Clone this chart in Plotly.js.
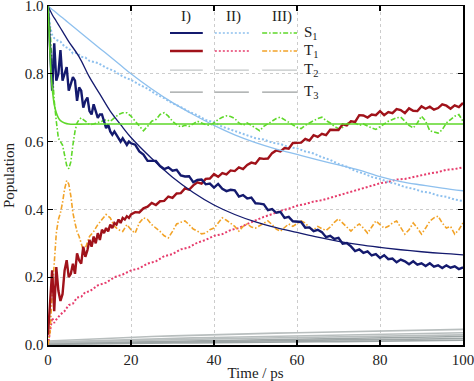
<!DOCTYPE html>
<html>
<head>
<meta charset="utf-8">
<script src="https://cdn.plot.ly/plotly-3.0.1.min.js"></script>
<style>html,body{margin:0;padding:0;background:#fff;}#chart{width:474px;height:381px;}</style>
</head>
<body>
<div id="chart"></div>
<script>
// ---------- time grids (ps) ----------
const tEarly = [0,0.5,1,1.5,2,2.5,3,3.5,4,4.5,5,5.5,6,6.5,7,7.5,8,8.5,9,9.5,10,10.5,11,11.5,12,12.5,13,13.5,14,14.5,15,15.5,16,16.5,17,17.5,18,18.5,19,19.5,20];
const tLate = [21,22,23,24,25,26,27,28,29,30,31,32,33,34,35,36,37,38,39,40,41,42,43,44,45,46,47,48,49,50,51,52,53,54,55,56,57,58,59,60,61,62,63,64,65,66,67,68,69,70,71,72,73,74,75,76,77,78,79,80,81,82,83,84,85,86,87,88,89,90,91,92,93,94,95,96,97,98,99,100];
const tII = [0,0.5,1,1.5,2,3,4,5,6,7,8,9,10,12,14,16,18,20,22,24,26,28,30,32,34,36,38,40,42,44,46,48,50,52,54,56,58,60,62,64,66,68,70,72,74,76,78,80,82,84,86,88,90,92,94,96,98,100];
const tIIIearly = [0,0.5,1,1.5,2,2.5,3,3.5,4,4.5,5,5.5,6,6.5,7,7.5,8,8.5,9,9.5,10,11,12,13,14,15,16,17,18,19,20];
const tIIIlate = [21,22,23,24,25,26,27,28,29,30,31,32,33,34,35,36,37,38,39,40,41,42,43,44,45,46,47,48,49,50,51,52,53,54,55,56,57,58,59,60,61,62,63,64,65,66,67,68,69,70,71,72,73,74,75,76,77,78,79,80,81,82,83,84,85,86,87,88,89,90,91,92,93,94,95,96,97,98,99,100];
const tFit = [0,1,2,3,4,5,7.5,10,12.5,15,17.5,20,25,30,35,40,45,50,55,60,65,70,75,80,85,90,95,100];
const tFitIII = [0,0.25,0.5,0.75,1,1.5,2,2.5,3,4,5,10,100];
const tGray = [0,5,10,15,20,25,30,35,40,45,50,55,60,65,70,75,80,85,90,95,100];

// ---------- I) populations ----------
const s1_I_early = [1.0,0.86,0.75,0.89,0.78,0.80,0.87,0.78,0.80,0.82,0.75,0.77,0.79,0.78,0.72,0.76,0.75,0.70,0.72,0.73,0.69,0.68,0.71,0.69,0.67,0.68,0.68,0.66,0.64,0.65,0.63,0.62,0.63,0.62,0.61,0.60,0.61,0.60,0.59,0.60,0.595];
const s1_I_late = [0.591,0.571,0.562,0.543,0.543,0.543,0.528,0.519,0.524,0.514,0.517,0.500,0.497,0.498,0.480,0.487,0.488,0.474,0.476,0.464,0.475,0.461,0.454,0.458,0.456,0.438,0.442,0.432,0.435,0.418,0.417,0.415,0.398,0.401,0.390,0.393,0.375,0.378,0.365,0.364,0.363,0.346,0.347,0.336,0.340,0.333,0.318,0.322,0.313,0.316,0.299,0.301,0.291,0.277,0.282,0.272,0.276,0.264,0.268,0.257,0.265,0.253,0.255,0.244,0.252,0.247,0.238,0.247,0.237,0.241,0.233,0.241,0.231,0.235,0.227,0.235,0.228,0.232,0.224,0.229];
const t1_I_early = [0.03,0.12,0.22,0.10,0.23,0.16,0.13,0.15,0.22,0.25,0.20,0.21,0.24,0.21,0.27,0.25,0.24,0.29,0.26,0.28,0.31,0.29,0.32,0.30,0.33,0.31,0.34,0.33,0.345,0.335,0.355,0.345,0.36,0.355,0.37,0.36,0.375,0.37,0.38,0.375,0.385];
const t1_I_late = [0.392,0.391,0.403,0.408,0.419,0.413,0.424,0.425,0.438,0.434,0.447,0.448,0.462,0.458,0.471,0.480,0.476,0.490,0.491,0.504,0.496,0.507,0.503,0.515,0.513,0.524,0.519,0.531,0.538,0.535,0.551,0.549,0.550,0.566,0.574,0.571,0.581,0.579,0.596,0.597,0.597,0.608,0.603,0.619,0.614,0.623,0.619,0.635,0.635,0.634,0.651,0.648,0.660,0.658,0.678,0.677,0.671,0.680,0.678,0.690,0.678,0.687,0.684,0.696,0.693,0.684,0.698,0.691,0.690,0.704,0.697,0.703,0.694,0.699,0.710,0.706,0.697,0.707,0.702,0.714];
const s1_I_fit = [1.0,0.975,0.955,0.935,0.915,0.895,0.85,0.79,0.74,0.69,0.65,0.612,0.55,0.495,0.45,0.413,0.385,0.363,0.346,0.332,0.318,0.306,0.296,0.288,0.281,0.275,0.270,0.266];

// ---------- II) populations ----------
const s1_II = [1.0,0.94,0.915,0.905,0.90,0.895,0.88,0.875,0.86,0.862,0.85,0.848,0.838,0.832,0.818,0.808,0.792,0.782,0.768,0.756,0.74,0.728,0.713,0.702,0.688,0.678,0.664,0.657,0.644,0.636,0.626,0.619,0.61,0.606,0.597,0.593,0.584,0.58,0.571,0.565,0.554,0.546,0.534,0.526,0.514,0.506,0.496,0.49,0.481,0.475,0.466,0.461,0.453,0.449,0.441,0.437,0.429,0.425];
const t1_II = [0.0,0.04,0.08,0.065,0.075,0.09,0.10,0.118,0.122,0.14,0.142,0.156,0.158,0.176,0.184,0.20,0.208,0.22,0.226,0.24,0.247,0.262,0.268,0.282,0.288,0.302,0.31,0.322,0.327,0.339,0.345,0.357,0.368,0.378,0.386,0.396,0.402,0.411,0.416,0.423,0.427,0.434,0.44,0.448,0.455,0.463,0.469,0.477,0.481,0.488,0.49,0.496,0.50,0.506,0.51,0.517,0.519,0.524];
const s1_II_fit = [1.0,0.99,0.98,0.97,0.96,0.95,0.925,0.90,0.875,0.85,0.825,0.80,0.755,0.715,0.68,0.648,0.62,0.597,0.578,0.562,0.546,0.531,0.516,0.497,0.482,0.472,0.463,0.455];

// ---------- III) populations ----------
const s1_III_early = [1.0,0.93,0.82,0.72,0.66,0.61,0.60,0.59,0.56,0.53,0.52,0.54,0.59,0.63,0.655,0.665,0.67,0.665,0.66,0.655,0.65,0.652,0.655,0.66,0.665,0.66,0.67,0.68,0.685,0.685,0.675];
const s1_III_late = [0.66,0.645,0.632,0.645,0.66,0.665,0.68,0.685,0.675,0.66,0.65,0.643,0.648,0.645,0.652,0.66,0.655,0.65,0.648,0.655,0.665,0.672,0.676,0.674,0.668,0.655,0.648,0.655,0.648,0.64,0.632,0.645,0.652,0.66,0.668,0.672,0.665,0.658,0.65,0.642,0.638,0.648,0.655,0.662,0.668,0.672,0.662,0.655,0.645,0.638,0.642,0.652,0.66,0.655,0.648,0.652,0.645,0.64,0.636,0.645,0.652,0.66,0.665,0.67,0.672,0.66,0.648,0.64,0.655,0.675,0.66,0.632,0.628,0.625,0.635,0.655,0.665,0.675,0.68,0.66];
const t1_III_early = [0.0,0.04,0.15,0.26,0.33,0.37,0.39,0.42,0.46,0.485,0.475,0.44,0.39,0.36,0.335,0.32,0.30,0.28,0.285,0.30,0.32,0.335,0.355,0.37,0.385,0.375,0.35,0.34,0.335,0.355,0.34];
const t1_III_late = [0.33,0.36,0.375,0.37,0.355,0.345,0.335,0.322,0.316,0.335,0.357,0.362,0.366,0.355,0.342,0.336,0.328,0.33,0.34,0.345,0.36,0.375,0.368,0.358,0.35,0.336,0.35,0.357,0.348,0.345,0.352,0.36,0.366,0.355,0.342,0.336,0.348,0.357,0.35,0.358,0.366,0.36,0.345,0.34,0.35,0.343,0.338,0.348,0.362,0.372,0.36,0.35,0.336,0.348,0.357,0.345,0.33,0.348,0.366,0.355,0.345,0.35,0.36,0.366,0.345,0.327,0.34,0.36,0.345,0.327,0.345,0.365,0.375,0.38,0.36,0.345,0.35,0.327,0.34,0.36];
const s1_III_fit = [1.0,0.93,0.86,0.80,0.76,0.71,0.685,0.67,0.662,0.655,0.652,0.652,0.652];

// ---------- T2 / T3 (all methods) ----------
const t2_I   = [0.012,0.015,0.018,0.020,0.023,0.025,0.027,0.029,0.031,0.032,0.033,0.035,0.036,0.037,0.039,0.040,0.041,0.042,0.043,0.045,0.046];
const t2_II  = [0.009,0.011,0.013,0.015,0.016,0.018,0.019,0.021,0.022,0.023,0.025,0.026,0.027,0.028,0.029,0.031,0.032,0.033,0.034,0.035,0.036];
const t2_III = [0.007,0.009,0.010,0.012,0.013,0.014,0.016,0.017,0.018,0.019,0.020,0.021,0.022,0.023,0.024,0.025,0.026,0.027,0.028,0.029,0.030];
const t3_I   = [0.005,0.006,0.007,0.008,0.009,0.010,0.011,0.012,0.013,0.014,0.015,0.016,0.017,0.018,0.019,0.020,0.021,0.022,0.023,0.024,0.025];
const t3_II  = [0.003,0.004,0.005,0.006,0.007,0.008,0.009,0.009,0.010,0.011,0.012,0.012,0.013,0.014,0.015,0.015,0.016,0.017,0.018,0.018,0.019];
const t3_III = [0.002,0.003,0.003,0.004,0.005,0.005,0.006,0.006,0.007,0.008,0.008,0.009,0.009,0.010,0.010,0.011,0.012,0.012,0.013,0.013,0.014];

// ---------- labels / ticks ----------
const methodLabels = ['I)','II)','III)'];
const stateLabels = ['S<sub>1</sub>','T<sub>1</sub>','T<sub>2</sub>','T<sub>3</sub>'];
const xTickVals = [0,20,40,60,80,100];
const xTickText = ['0','20','40','60','80','100'];
const yTickVals = [0,0.2,0.4,0.6,0.8,1.0];
const yTickText = ['0.0','0.2','0.4','0.6','0.8','1.0'];
const xTitle = 'Time / ps';
const yTitle = 'Population';

// ---------- styles ----------
const C = {
  navy:'#141a6e', red:'#a0121a', lblue:'#8ec0ee', pink:'#e63c6c',
  green:'#5fd82a', orange:'#f2a328', gT2:'#b8bebe', gT3:'#9ea6a6'
};
const DOT = '2px,2px';
const DASHDOT = '5px,2px,1.5px,2px';
const FONT = 'Liberation Serif';

const tI = tEarly.concat(tLate);
const tIII = tIIIearly.concat(tIIIlate);

function ln(x, y, color, width, dash, shape) {
  return {x:x, y:y, type:'scatter', mode:'lines', hoverinfo:'skip', showlegend:false,
    line:{color:color, width:width, dash:dash||'solid', shape:shape||'linear'}};
}

const traces = [
  ln(tGray, t3_III, C.gT3, 1.6), ln(tGray, t3_II, C.gT3, 1.6), ln(tGray, t3_I, C.gT3, 1.6),
  ln(tGray, t2_III, C.gT2, 1.6), ln(tGray, t2_II, C.gT2, 1.6), ln(tGray, t2_I, C.gT2, 1.6),
  ln(tII, t1_II, C.pink, 2, DOT),
  ln(tII, s1_II, C.lblue, 2, DOT),
  ln(tIII, t1_III_early.concat(t1_III_late), C.orange, 1.6, DASHDOT),
  ln(tIII, s1_III_early.concat(s1_III_late), C.green, 1.6, DASHDOT),
  ln(tI, t1_I_early.concat(t1_I_late), C.red, 2.4),
  ln(tI, s1_I_early.concat(s1_I_late), C.navy, 2.4),
  ln(tFit, s1_II_fit, C.lblue, 1.3, 'solid', 'spline'),
  ln(tFit, s1_I_fit, C.navy, 1.3, 'solid', 'spline'),
  ln(tFitIII, s1_III_fit, C.green, 1.6, 'solid', 'spline')
];

// ---------- custom legend table (paper coords) ----------
const colX = [[0.294,0.373],[0.402,0.484],[0.516,0.600]];
const rowY = [0.920,0.867,0.811,0.746];
const legStyle = [
  [[C.navy,2,'solid'],[C.lblue,1.5,DOT],[C.green,1.5,DASHDOT]],
  [[C.red,2.5,'solid'],[C.pink,1.5,DOT],[C.orange,1.5,DASHDOT]],
  [['#c2c6c6',1.2,'solid'],['#c2c6c6',1.2,'solid'],['#c2c6c6',1.2,'solid']],
  [['#9a9e9e',1.2,'solid'],['#9a9e9e',1.2,'solid'],['#9a9e9e',1.2,'solid']]
];
const shapes = [];
const annotations = [];
rowY.forEach((yy, r) => {
  colX.forEach((xx, c) => {
    const st = legStyle[r][c];
    shapes.push({type:'line', xref:'paper', yref:'paper', x0:xx[0], x1:xx[1], y0:yy, y1:yy,
      line:{color:st[0], width:st[1], dash:st[2]}});
  });
  annotations.push({xref:'paper', yref:'paper', x:0.612, y:yy, xanchor:'left', yanchor:'middle',
    text:stateLabels[r], showarrow:false, font:{family:FONT, size:15, color:'#222'}});
});
const headX = [0.333,0.446,0.564];
methodLabels.forEach((m, c) => {
  annotations.push({xref:'paper', yref:'paper', x:headX[c], y:0.970, xanchor:'center', yanchor:'middle',
    text:m, showarrow:false, font:{family:FONT, size:15, color:'#222'}});
});

const axisCommon = {
  showline:true, linecolor:'#000', linewidth:1.5, mirror:'ticks',
  ticks:'inside', ticklen:5, tickwidth:1.3, tickcolor:'#000',
  showgrid:true, gridcolor:'#cccccc', gridwidth:1, griddash:'dot',
  zeroline:false, ticklabeloverflow:'allow',
  tickfont:{family:FONT, size:15, color:'#222'}
};

const layout = {
  width:474, height:381,
  margin:{l:48, r:11, t:6, b:36},
  paper_bgcolor:'#fff', plot_bgcolor:'#fff',
  showlegend:false,
  font:{family:FONT, size:15, color:'#222'},
  xaxis:Object.assign({}, axisCommon, {range:[0,100], tickmode:'array', tickvals:xTickVals, ticktext:xTickText,
    title:{text:xTitle, font:{family:FONT, size:15, color:'#222'}, standoff:2}}),
  yaxis:Object.assign({}, axisCommon, {range:[0,1], tickmode:'array', tickvals:yTickVals, ticktext:yTickText,
    title:{text:yTitle, font:{family:FONT, size:15, color:'#222'}, standoff:6}}),
  shapes:shapes,
  annotations:annotations
};

Plotly.newPlot('chart', traces, layout, {staticPlot:true, displayModeBar:false});
</script>
</body>
</html>
